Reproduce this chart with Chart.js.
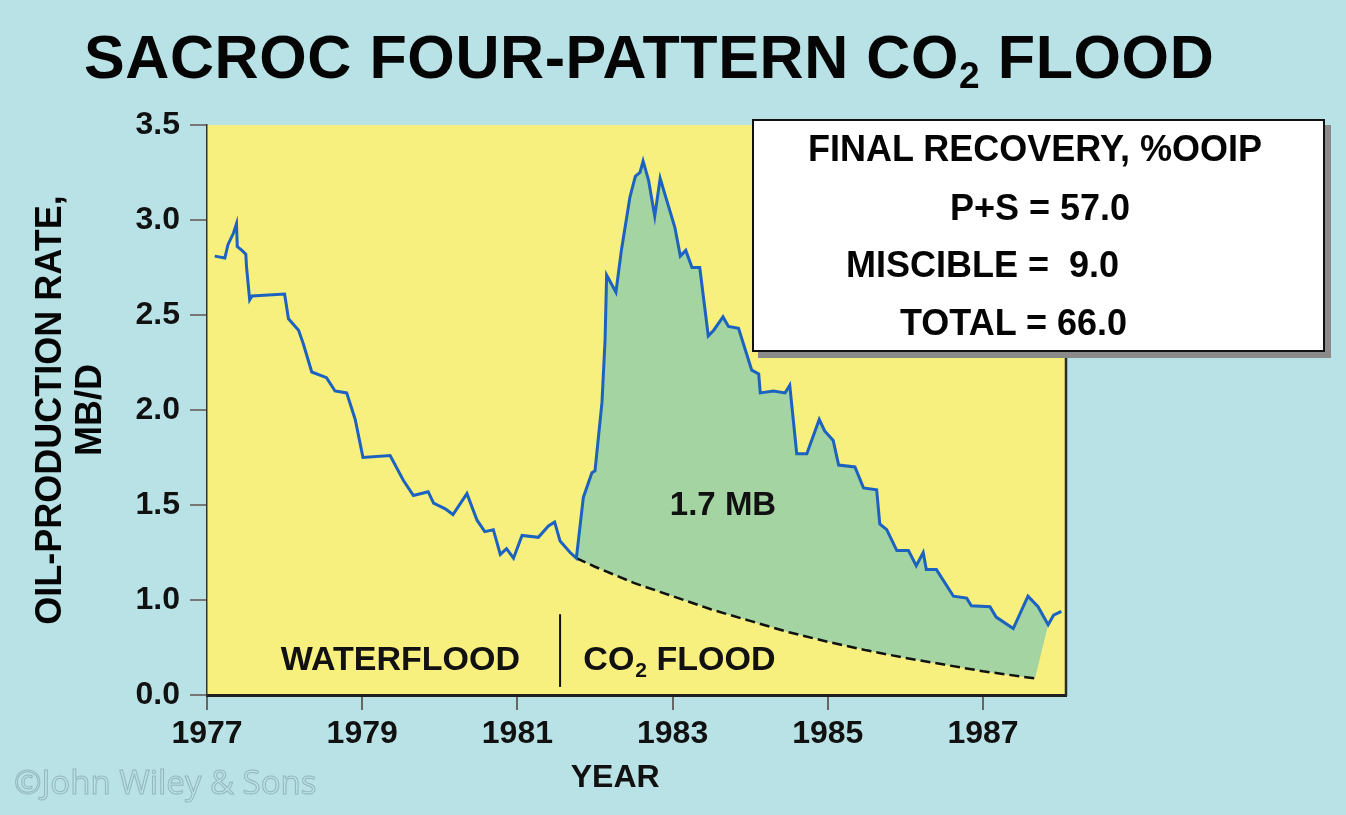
<!DOCTYPE html>
<html>
<head>
<meta charset="utf-8">
<script src="https://cdn.jsdelivr.net/npm/chart.js@4.4.0/dist/chart.umd.min.js"></script>
<style>
  html, body { margin: 0; padding: 0; background: #b8e2e6; }
  #wrap { position: relative; width: 1346px; height: 815px; overflow: hidden; }
  #chart { position: absolute; left: 0; top: 0; }
  .title { position: absolute; left: 84px; top: 27px; font: bold 61px "Liberation Sans", Arial, sans-serif; line-height: 60px; letter-spacing: 0.6px; color: #050505; white-space: nowrap; }
  .title sub { font-size: 37px; line-height: 0; vertical-align: -10px; }
  .box { position: absolute; left: 752px; top: 119px; width: 569px; height: 229px; background: #fff; border: 2px solid #111; box-shadow: 6px 6px 0 #8a8a8a; }
  .line { position: absolute; font: bold 36px "Liberation Sans", Arial, sans-serif; line-height: 36px; color: #050505; white-space: pre; }
  .wm { position: absolute; left: 14px; top: 765px; font: 400 33px "Open Sans", sans-serif; line-height: 34px; color: transparent; -webkit-text-stroke: 1px #93b7bb; white-space: nowrap; }
</style>
</head>
<body>
<div id="wrap">
  <canvas id="chart" width="1346" height="815"></canvas>
  <div class="title">SACROC FOUR-PATTERN CO<sub>2</sub> FLOOD</div>
  <div class="box"></div>
  <div class="line" style="left:808px; top:131px;">FINAL RECOVERY, %OOIP</div>
  <div class="line" style="left:950px; top:190px;">P+S = 57.0</div>
  <div class="line" style="left:846px; top:247px;">MISCIBLE =  9.0</div>
  <div class="line" style="left:900px; top:305px;">TOTAL = 66.0</div>
  <div class="wm">©John Wiley &amp; Sons</div>
</div>
<script>
// oil production rate (MB/D)
var prodYears = [1977.10, 1977.23, 1977.27, 1977.34, 1977.38, 1977.39, 1977.45, 1977.50, 1977.51, 1977.55,
    1977.58, 1978.00, 1978.05, 1978.18, 1978.24, 1978.35, 1978.54, 1978.65, 1978.80, 1978.91,
    1979.01, 1979.36, 1979.53, 1979.66, 1979.85, 1979.92, 1980.07, 1980.17, 1980.35, 1980.48,
    1980.58, 1980.69, 1980.78, 1980.86, 1980.95, 1981.06, 1981.27, 1981.40, 1981.48, 1981.55,
    1981.68, 1981.76, 1981.85, 1981.96, 1982.00, 1982.09, 1982.13, 1982.15, 1982.19, 1982.27,
    1982.34, 1982.45, 1982.52, 1982.58, 1982.62, 1982.69, 1982.77, 1982.84, 1982.92, 1983.03,
    1983.10, 1983.17, 1983.25, 1983.35, 1983.46, 1983.53, 1983.65, 1983.72, 1983.85, 1984.02,
    1984.11, 1984.13, 1984.30, 1984.45, 1984.51, 1984.60, 1984.73, 1984.89, 1984.96, 1985.07,
    1985.14, 1985.35, 1985.46, 1985.63, 1985.67, 1985.76, 1985.89, 1986.04, 1986.14, 1986.23,
    1986.27, 1986.40, 1986.62, 1986.79, 1986.85, 1987.09, 1987.17, 1987.39, 1987.58, 1987.71,
    1987.84, 1987.91, 1988.01];
var prodRates = [2.81, 2.80, 2.87, 2.93, 2.98, 2.86, 2.84, 2.82, 2.75, 2.58,
    2.60, 2.61, 2.48, 2.42, 2.35, 2.20, 2.17, 2.10, 2.09, 1.95,
    1.75, 1.76, 1.63, 1.55, 1.57, 1.51, 1.48, 1.45, 1.56, 1.42,
    1.36, 1.37, 1.24, 1.27, 1.22, 1.34, 1.33, 1.39, 1.41, 1.31,
    1.25, 1.22, 1.54, 1.67, 1.68, 2.04, 2.37, 2.71, 2.68, 2.62,
    2.84, 3.12, 3.23, 3.25, 3.31, 3.21, 3.02, 3.22, 3.11, 2.96,
    2.81, 2.84, 2.75, 2.75, 2.39, 2.42, 2.49, 2.44, 2.43, 2.21,
    2.19, 2.09, 2.10, 2.09, 2.13, 1.77, 1.77, 1.95, 1.89, 1.84,
    1.71, 1.70, 1.59, 1.58, 1.40, 1.37, 1.26, 1.26, 1.18, 1.25,
    1.16, 1.16, 1.02, 1.01, 0.94, 0.93, 0.82, 0.70, 1.02, 0.93,
    0.74, 0.84, 0.88];

// waterflood decline (dashed)
var baseYears = [1981.76, 1982.0, 1982.5, 1983.0, 1983.5, 1984.0, 1984.5, 1985.0, 1985.5, 1986.0, 1986.5, 1987.0, 1987.67];
var baseRates = [1.22, 1.175, 1.09, 1.02, 0.90, 0.78, 0.66, 0.56, 0.47, 0.39, 0.32, 0.25, 0.175];

var co2Start = 1981.76;
var co2End = 1987.84;

var xTickYears = [1977, 1979, 1981, 1983, 1985, 1987];
var yTickLabels = [0.0, 1.0, 1.5, 2.0, 2.5, 3.0, 3.5];

// the axis is drawn with 0.0 and 1.0 one step apart, the rest in 0.5 steps
function toAxis(v) {
    return v <= 1 ? v * 0.5 : v - 0.5;
}

var prodPts = prodYears.map(function (x, i) { return {x: x, y: toAxis(prodRates[i])}; });
var basePts = baseYears.map(function (x, i) { return {x: x, y: toAxis(baseRates[i])}; });
var areaPts = prodPts.filter(function (p) { return p.x >= co2Start && p.x <= co2End; })
    .concat(basePts.slice().reverse());

var fontFam = '"Liberation Sans", Arial, sans-serif';

var decor = {
    id: 'decor',
    beforeDraw: function (chart) {
        var a = chart.chartArea, ctx = chart.ctx;
        ctx.save();
        ctx.fillStyle = '#f7ef7e';
        ctx.fillRect(a.left, a.top, a.right - a.left, a.bottom - a.top);
        ctx.restore();
    },
    afterDatasetsDraw: function (chart) {
        var a = chart.chartArea, ctx = chart.ctx;
        var xs = chart.scales.x, ys = chart.scales.y;
        ctx.save();
        // right frame
        ctx.strokeStyle = '#2a2a2a';
        ctx.lineWidth = 2.5;
        ctx.beginPath();
        ctx.moveTo(a.right, a.top);
        ctx.lineTo(a.right, a.bottom + 1);
        ctx.stroke();

        ctx.fillStyle = '#111';
        ctx.textBaseline = 'alphabetic';
        ctx.font = 'bold 33px ' + fontFam;
        ctx.textAlign = 'center';
        ctx.fillText('1.7 MB', xs.getPixelForValue(1983.65), ys.getPixelForValue(toAxis(1.45)));

        ctx.font = 'bold 34px ' + fontFam;
        ctx.textAlign = 'left';
        var yb = ys.getPixelForValue(toAxis(0.265));
        ctx.fillText('WATERFLOOD', xs.getPixelForValue(1977.95), yb);

        // divider
        ctx.strokeStyle = '#111';
        ctx.lineWidth = 2;
        ctx.beginPath();
        ctx.moveTo(xs.getPixelForValue(1981.55), ys.getPixelForValue(toAxis(0.85)));
        ctx.lineTo(xs.getPixelForValue(1981.55), ys.getPixelForValue(toAxis(0.085)));
        ctx.stroke();

        var cx = xs.getPixelForValue(1981.85);
        ctx.fillText('CO', cx, yb);
        cx += ctx.measureText('CO').width;
        ctx.font = 'bold 21px ' + fontFam;
        ctx.fillText('2', cx + 1, yb + 7);
        cx += ctx.measureText('2').width + 1;
        ctx.font = 'bold 34px ' + fontFam;
        ctx.fillText(' FLOOD', cx, yb);

        // x axis title, sits a little left of centre in the original
        ctx.font = 'bold 32px ' + fontFam;
        ctx.textAlign = 'center';
        ctx.fillText('YEAR', xs.getPixelForValue(1982.26), 787);
        ctx.restore();
    }
};

new Chart(document.getElementById('chart'), {
    type: 'line',
    data: {
        datasets: [
            {
                data: prodPts,
                borderColor: '#1c62c0',
                borderWidth: 3,
                pointRadius: 0,
                fill: false
            },
            {
                data: basePts,
                borderColor: '#111',
                borderWidth: 2.5,
                borderDash: [10, 5],
                pointRadius: 0,
                fill: false
            },
            {
                data: areaPts,
                borderWidth: 0,
                borderColor: 'rgba(0,0,0,0)',
                backgroundColor: '#a3d4a1',
                pointRadius: 0,
                fill: 'shape'
            }
        ]
    },
    options: {
        responsive: false,
        animation: false,
        layout: {padding: {left: 0, top: 125, right: 280, bottom: 0}},
        plugins: {
            legend: {display: false},
            tooltip: {enabled: false}
        },
        scales: {
            x: {
                type: 'linear',
                min: 1977,
                max: 1988.07,
                afterBuildTicks: function (s) {
                    s.ticks = xTickYears.map(function (v) { return {value: v}; });
                },
                afterFit: function (s) { s.height = 120; },
                ticks: {
                    autoSkip: false,
                    maxRotation: 0,
                    padding: 5,
                    color: '#111',
                    font: {family: fontFam, size: 32, weight: 'bold'},
                    callback: function (v) { return String(v); }
                },
                grid: {drawOnChartArea: false, tickLength: 15, color: '#666', lineWidth: 2},
                border: {color: '#1e1e1e', width: 3},
                title: {display: false}
            },
            y: {
                min: 0,
                max: 3,
                afterBuildTicks: function (s) {
                    s.ticks = yTickLabels.map(function (v) { return {value: toAxis(v)}; });
                },
                afterFit: function (s) { s.width = 207; },
                ticks: {
                    autoSkip: false,
                    padding: 10,
                    color: '#111',
                    font: {family: fontFam, size: 32, weight: 'bold'},
                    callback: function (v, i) { return yTickLabels[i].toFixed(1); }
                },
                grid: {drawOnChartArea: false, tickLength: 17, color: '#777', lineWidth: 2},
                border: {color: '#333', width: 1.5},
                title: {
                    display: true,
                    text: ['OIL-PRODUCTION RATE,', 'MB/D'],
                    color: '#050505',
                    font: {family: fontFam, size: 36, weight: 'bold', lineHeight: 40 / 36},
                    padding: {top: 31, bottom: 0}
                }
            }
        }
    },
    plugins: [decor]
});
</script>
</body>
</html>
